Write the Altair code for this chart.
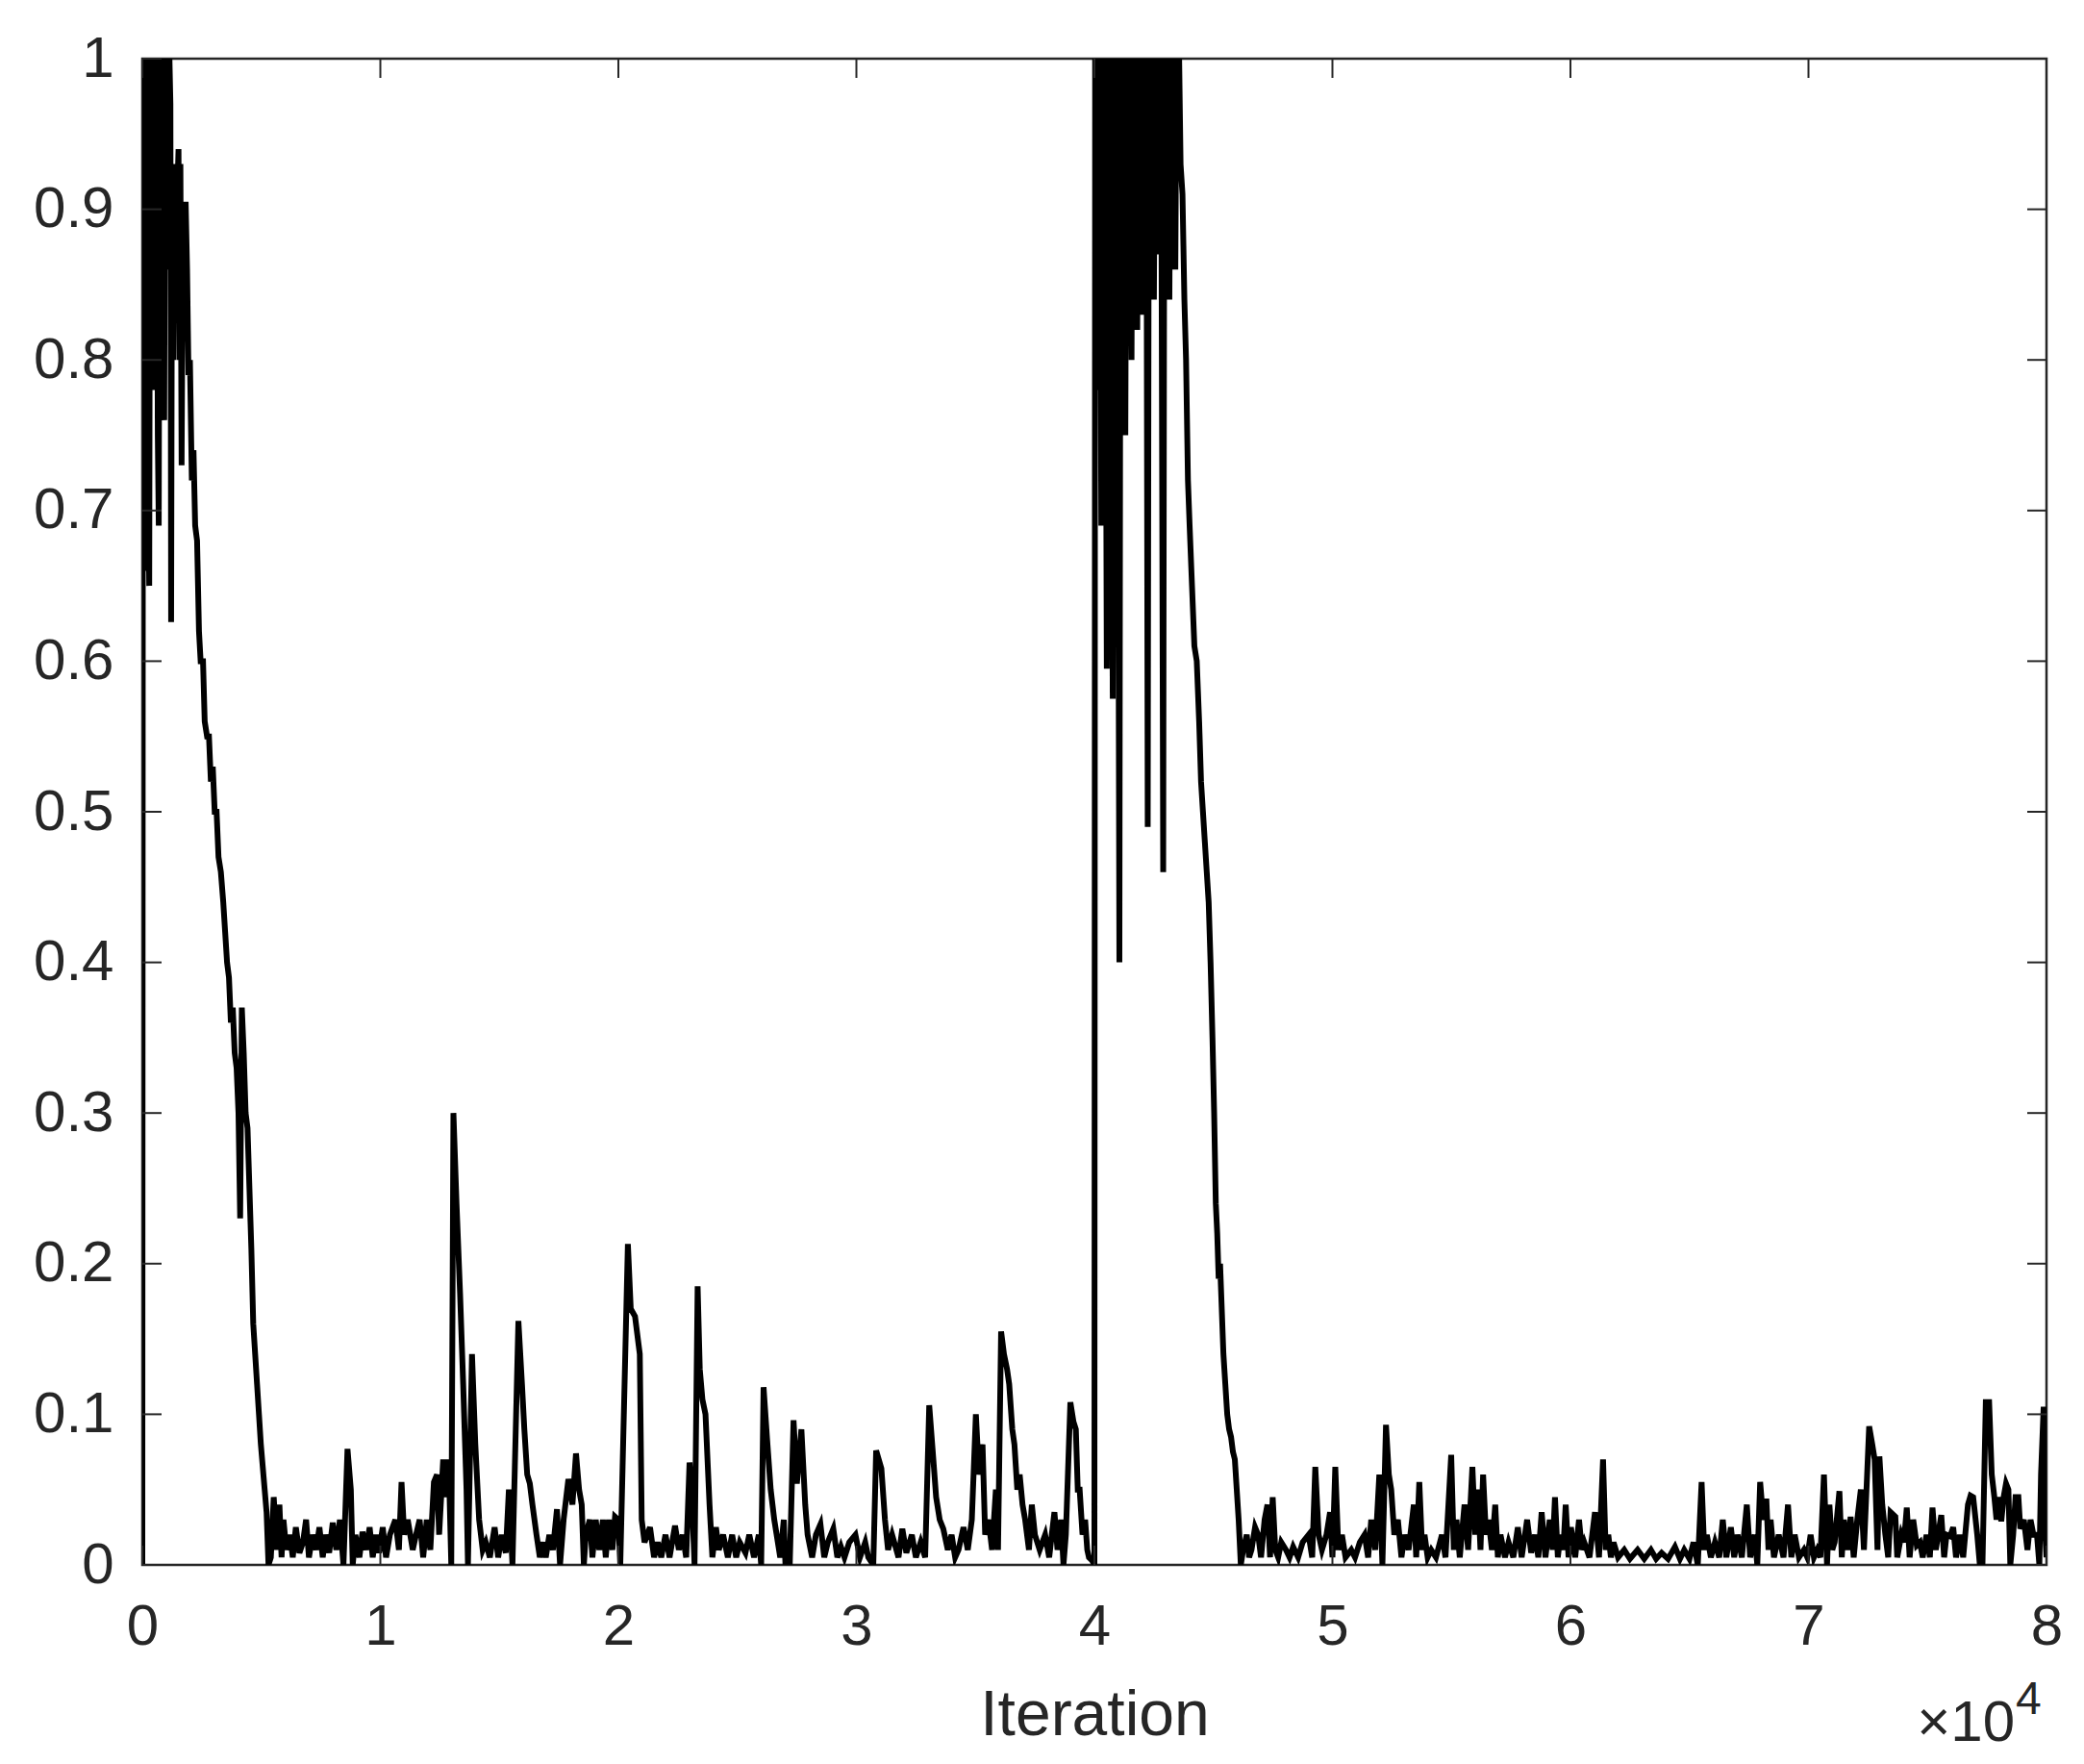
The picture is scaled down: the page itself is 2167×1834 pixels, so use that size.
import altair as alt
import pandas as pd

# ---- data (iteration, value) ----
burst1 = [
    (0, 0.0), (30, 1.0), (70, 0.66), (110, 1.0), (160, 0.8), (200, 1.0), (250, 0.72), (290, 0.65),
    (330, 1.0), (380, 0.85), (420, 1.0), (470, 0.78), (510, 1.0), (560, 0.88), (600, 1.0), (650, 0.75),
    (690, 0.69), (730, 1.0), (780, 0.85), (820, 1.0), (870, 0.8), (920, 0.76), (960, 1.0), (1010, 0.9),
    (1050, 1.0), (1100, 0.86), (1140, 1.0), (1180, 0.97), (1210, 0.626), (1250, 0.93), (1300, 0.8),
    (1350, 0.93), (1400, 0.83), (1450, 0.9), (1520, 0.94), (1560, 0.8), (1600, 0.93), (1650, 0.73),
    (1700, 0.88), (1760, 0.83), (1820, 0.905), (1880, 0.86), (1940, 0.79), (2000, 0.80), (2080, 0.72),
    (2150, 0.74), (2220, 0.69), (2300, 0.68), (2380, 0.62), (2450, 0.60), (2550, 0.60), (2620, 0.56),
    (2720, 0.55), (2800, 0.55), (2880, 0.52), (2960, 0.53), (3040, 0.50), (3120, 0.50), (3200, 0.47),
    (3300, 0.46), (3400, 0.44), (3480, 0.42), (3560, 0.40), (3640, 0.39), (3720, 0.36), (3800, 0.37),
    (3880, 0.34), (3960, 0.33), (4040, 0.30), (4110, 0.23), (4180, 0.37), (4260, 0.34), (4340, 0.30),
    (4420, 0.29), (4500, 0.25), (4580, 0.21), (4660, 0.16), (4740, 0.14), (4820, 0.12), (4900, 0.10),
    (4980, 0.08), (5060, 0.065), (5140, 0.05), (5220, 0.035), (5300, 0.0),
]

quiet1 = [
    (5400, 0.005), (5520, 0.045), (5650, 0.01), (5760, 0.04), (5850, 0.005), (5930, 0.03), (6050, 0.01),
    (6200, 0.02), (6320, 0.005), (6450, 0.025), (6600, 0.008), (6750, 0.015), (6880, 0.03), (7000, 0.005),
    (7150, 0.02), (7300, 0.01), (7440, 0.025), (7580, 0.005), (7700, 0.02), (7850, 0.008), (8000, 0.028),
    (8150, 0.01), (8300, 0.03), (8450, 0.0), (8620, 0.077), (8760, 0.05), (8840, 0.0), (8950, 0.02),
    (9120, 0.005), (9250, 0.022), (9400, 0.01), (9550, 0.025), (9680, 0.005), (9820, 0.02), (9950, 0.008),
    (10100, 0.025), (10240, 0.005), (10400, 0.02), (10630, 0.03), (10780, 0.01), (10890, 0.055),
    (11000, 0.02), (11150, 0.03), (11360, 0.01), (11500, 0.02), (11650, 0.03), (11800, 0.005),
    (11950, 0.03), (12100, 0.01), (12250, 0.055), (12380, 0.06), (12470, 0.02), (12640, 0.07),
    (12770, 0.045), (12870, 0.07), (12980, 0.0), (13070, 0.30), (13200, 0.24), (13350, 0.18),
    (13480, 0.12), (13620, 0.05), (13680, 0.0), (13850, 0.14), (13990, 0.08), (14150, 0.03),
    (14300, 0.01), (14430, 0.015), (14600, 0.005), (14800, 0.025), (14950, 0.005), (15100, 0.02),
    (15270, 0.008), (15400, 0.05), (15550, 0.0), (15800, 0.162), (15950, 0.12), (16050, 0.09),
    (16170, 0.06), (16280, 0.054), (16390, 0.04), (16560, 0.02), (16700, 0.005), (16850, 0.015),
    (16950, 0.005), (17100, 0.02), (17250, 0.01), (17420, 0.037), (17550, 0.0), (17700, 0.03),
    (17900, 0.057), (18070, 0.04), (18220, 0.074), (18350, 0.05), (18460, 0.04), (18550, 0.0),
    (18630, 0.02), (18800, 0.03), (18910, 0.005), (19050, 0.03), (19200, 0.01), (19350, 0.03),
    (19470, 0.005), (19600, 0.03), (19750, 0.01), (19860, 0.032), (20000, 0.03), (20080, 0.0),
    (20400, 0.213), (20520, 0.17), (20700, 0.165), (20900, 0.14), (20980, 0.03), (21100, 0.015),
    (21330, 0.025), (21500, 0.005), (21650, 0.015), (21800, 0.005), (21980, 0.02), (22150, 0.005),
    (22380, 0.026), (22540, 0.01), (22700, 0.02), (22850, 0.005), (22990, 0.068), (23100, 0.04),
    (23200, 0.0), (23330, 0.185), (23420, 0.13), (23530, 0.11), (23660, 0.10), (23830, 0.04),
    (23950, 0.005), (24100, 0.025), (24220, 0.01), (24400, 0.02), (24600, 0.005), (24780, 0.02),
    (24950, 0.005), (25100, 0.015), (25340, 0.008), (25500, 0.02), (25700, 0.005), (25900, 0.02),
    (26000, 0.0), (26100, 0.118), (26250, 0.083), (26400, 0.05), (26550, 0.03), (26800, 0.005),
    (26950, 0.03), (27020, 0.0), (27200, 0.0), (27360, 0.096), (27500, 0.054), (27690, 0.09),
    (27850, 0.04), (27950, 0.02), (28140, 0.005), (28300, 0.02), (28490, 0.027), (28650, 0.005),
    (28800, 0.015), (29030, 0.024), (29200, 0.005), (29350, 0.012), (29500, 0.005), (29700, 0.015),
    (29960, 0.02), (30150, 0.005), (30370, 0.015), (30500, 0.005), (30710, 0.0), (30830, 0.076),
    (31050, 0.064), (31200, 0.03), (31330, 0.01), (31500, 0.02), (31770, 0.005), (31930, 0.024),
    (32100, 0.008), (32330, 0.02), (32500, 0.005), (32700, 0.015), (32890, 0.005), (33060, 0.106),
    (33200, 0.077), (33350, 0.045), (33500, 0.03), (33650, 0.024), (33840, 0.01), (34000, 0.02),
    (34150, 0.005), (34290, 0.01), (34500, 0.025), (34680, 0.01), (34850, 0.03), (35020, 0.10),
    (35150, 0.06), (35300, 0.08), (35410, 0.02), (35550, 0.03), (35700, 0.01), (35860, 0.05),
    (35950, 0.01), (36080, 0.155), (36200, 0.14), (36330, 0.13), (36420, 0.12), (36550, 0.09),
    (36640, 0.08), (36760, 0.05), (36860, 0.06), (36980, 0.04), (37090, 0.03), (37250, 0.01),
    (37370, 0.04), (37500, 0.02), (37700, 0.01), (37930, 0.02), (38100, 0.005), (38320, 0.035),
    (38450, 0.01), (38600, 0.03), (38700, 0.0), (38800, 0.02), (38990, 0.108), (39120, 0.095),
    (39220, 0.09), (39300, 0.05), (39380, 0.05), (39500, 0.02), (39610, 0.03), (39700, 0.01),
    (39770, 0.005), (39900, 0.003),
]

burst2 = [
    (40000, 0.0), (40030, 1.0), (40080, 0.78), (40130, 1.0), (40180, 0.85), (40230, 1.0), (40290, 0.69),
    (40340, 1.0), (40390, 0.82), (40440, 1.0), (40520, 0.595), (40570, 1.0), (40620, 0.8), (40670, 1.0),
    (40770, 0.575), (40820, 1.0), (40870, 0.78), (40920, 1.0), (40980, 0.85), (41050, 0.40), (41100, 1.0),
    (41150, 0.8), (41200, 1.0), (41300, 0.75), (41350, 1.0), (41400, 0.83), (41450, 1.0), (41560, 0.80),
    (41610, 1.0), (41660, 0.86), (41710, 1.0), (41800, 0.82), (41850, 1.0), (41900, 0.84), (41950, 1.0),
    (42000, 0.83), (42060, 1.0), (42120, 0.86), (42180, 1.0), (42240, 0.49), (42290, 1.0), (42350, 0.86),
    (42400, 1.0), (42500, 0.84), (42550, 1.0), (42620, 0.88), (42680, 1.0), (42740, 0.87), (42800, 1.0),
    (42890, 0.46), (42940, 1.0), (43000, 0.85), (43060, 1.0), (43150, 0.84), (43200, 1.0), (43280, 0.89),
    (43340, 1.0), (43400, 0.86), (43450, 1.0), (43500, 0.96), (43560, 1.0), (43620, 0.93), (43700, 0.91),
    (43780, 0.84), (43850, 0.80), (43930, 0.72), (44000, 0.69), (44100, 0.65), (44200, 0.61),
    (44300, 0.60), (44400, 0.56), (44480, 0.52), (44560, 0.50), (44640, 0.48), (44720, 0.46),
    (44800, 0.44), (44880, 0.40), (44960, 0.35), (45030, 0.30), (45100, 0.24), (45160, 0.22),
    (45220, 0.19), (45280, 0.20), (45350, 0.17), (45420, 0.14), (45500, 0.12), (45580, 0.10),
    (45660, 0.09), (45740, 0.085), (45820, 0.075), (45900, 0.07), (45980, 0.05), (46060, 0.03),
    (46150, 0.0),
]

quiet2 = [
    (46250, 0.01), (46400, 0.02), (46500, 0.005), (46600, 0.01), (46750, 0.025), (46880, 0.02),
    (47000, 0.005), (47150, 0.03), (47270, 0.04), (47380, 0.005), (47490, 0.045), (47600, 0.01),
    (47720, 0.005), (47850, 0.015), (48050, 0.01), (48200, 0.005), (48350, 0.012), (48560, 0.005),
    (48750, 0.015), (49000, 0.02), (49150, 0.005), (49280, 0.065), (49420, 0.02), (49560, 0.01),
    (49750, 0.02), (49900, 0.035), (50000, 0.005), (50120, 0.065), (50250, 0.01), (50400, 0.02),
    (50550, 0.005), (50790, 0.01), (50950, 0.005), (51150, 0.015), (51350, 0.02), (51500, 0.005),
    (51630, 0.03), (51800, 0.01), (51970, 0.06), (52100, 0.0), (52250, 0.093), (52370, 0.06),
    (52470, 0.05), (52600, 0.02), (52750, 0.03), (52900, 0.005), (53030, 0.02), (53200, 0.01),
    (53420, 0.04), (53520, 0.005), (53650, 0.055), (53770, 0.01), (53870, 0.02), (54000, 0.005),
    (54150, 0.01), (54350, 0.005), (54600, 0.02), (54750, 0.005), (54990, 0.073), (55100, 0.01),
    (55210, 0.03), (55350, 0.005), (55550, 0.04), (55700, 0.01), (55880, 0.065), (56000, 0.02),
    (56110, 0.05), (56220, 0.01), (56330, 0.06), (56450, 0.02), (56560, 0.03), (56700, 0.01),
    (56840, 0.04), (56950, 0.005), (57060, 0.02), (57250, 0.005), (57400, 0.015), (57600, 0.005),
    (57790, 0.025), (57950, 0.005), (58180, 0.03), (58350, 0.008), (58510, 0.02), (58650, 0.005),
    (58790, 0.035), (58950, 0.005), (59130, 0.03), (59250, 0.01), (59350, 0.045), (59470, 0.005),
    (59580, 0.02), (59700, 0.01), (59800, 0.04), (59920, 0.005), (60020, 0.025), (60200, 0.005),
    (60360, 0.03), (60480, 0.01), (60580, 0.015), (60800, 0.005), (61030, 0.035), (61200, 0.005),
    (61370, 0.07), (61480, 0.01), (61590, 0.02), (61700, 0.005), (61810, 0.015), (62000, 0.005),
    (62260, 0.01), (62500, 0.004), (62820, 0.01), (63100, 0.004), (63380, 0.01), (63600, 0.004),
    (63830, 0.008), (64100, 0.004), (64390, 0.012), (64600, 0.004), (64780, 0.01), (65000, 0.004),
    (65170, 0.015), (65350, 0.0), (65510, 0.055), (65620, 0.01), (65730, 0.02), (65900, 0.005),
    (66070, 0.015), (66250, 0.005), (66400, 0.03), (66550, 0.005), (66740, 0.025), (66880, 0.005),
    (67020, 0.02), (67200, 0.005), (67410, 0.04), (67550, 0.005), (67740, 0.02), (67850, 0.0),
    (67970, 0.055), (68100, 0.03), (68230, 0.044), (68320, 0.01), (68410, 0.03), (68550, 0.005),
    (68750, 0.02), (68950, 0.005), (69140, 0.04), (69280, 0.005), (69420, 0.02), (69600, 0.005),
    (69810, 0.01), (69950, 0.005), (70090, 0.02), (70230, 0.005), (70370, 0.01), (70500, 0.005),
    (70650, 0.06), (70780, 0.0), (70880, 0.04), (71000, 0.01), (71100, 0.015), (71300, 0.049),
    (71400, 0.005), (71490, 0.03), (71650, 0.01), (71770, 0.032), (71900, 0.005), (72050, 0.03),
    (72200, 0.05), (72330, 0.01), (72550, 0.092), (72680, 0.08), (72780, 0.07), (72900, 0.01),
    (72980, 0.072), (73100, 0.04), (73230, 0.02), (73350, 0.005), (73450, 0.035), (73650, 0.032),
    (73730, 0.005), (73900, 0.02), (74010, 0.015), (74130, 0.038), (74250, 0.005), (74400, 0.03),
    (74550, 0.013), (74680, 0.015), (74800, 0.005), (74960, 0.02), (75100, 0.005), (75210, 0.038),
    (75350, 0.01), (75580, 0.033), (75700, 0.005), (75800, 0.02), (75950, 0.019), (76080, 0.025),
    (76200, 0.005), (76360, 0.02), (76500, 0.005), (76700, 0.04), (76810, 0.046), (76920, 0.045),
    (77090, 0.02), (77200, 0.0), (77310, 0.0), (77450, 0.108), (77590, 0.108), (77700, 0.06),
    (77810, 0.045), (77900, 0.03), (77980, 0.045), (78100, 0.029), (78200, 0.045), (78300, 0.054),
    (78400, 0.05), (78480, 0.0), (78600, 0.02), (78700, 0.045), (78820, 0.045), (78900, 0.024),
    (79050, 0.03), (79200, 0.01), (79330, 0.03), (79450, 0.02), (79600, 0.02), (79700, 0.0),
    (79770, 0.06), (79880, 0.105), (79950, 0.02), (80000, 0.005),
]

x_ticks = [0, 10000, 20000, 30000, 40000, 50000, 60000, 70000, 80000]
y_ticks = [0.0, 0.1, 0.2, 0.3, 0.4, 0.5, 0.6, 0.7, 0.8, 0.9, 1.0]
x_title = "Iteration"
exponent_base = "×10"
exponent_power = "4"

W, H = 1980, 1566
AX = "#262626"
FONT = "Liberation Sans"
TICK = 20

rows = burst1 + quiet1 + burst2 + quiet2
df = pd.DataFrame(rows, columns=["iteration", "value"])
df["order"] = range(len(df))

xscale = alt.Scale(domain=[0, 80000], nice=False, zero=False)
yscale = alt.Scale(domain=[0, 1], nice=False)

line = alt.Chart(df).mark_line(color="black", strokeWidth=6, clip=True).encode(
    x=alt.X("iteration:Q", scale=xscale,
            axis=alt.Axis(values=x_ticks, labelExpr="datum.value / 10000", grid=False, ticks=False,
                          domain=False, labelFontSize=60, labelFont=FONT, labelColor=AX,
                          labelPadding=35, title=x_title, titleFont=FONT, titleFontSize=66,
                          titleFontWeight="normal", titleColor=AX, titleY=176,
                          titleBaseline="alphabetic", labelFlush=False)),
    y=alt.Y("value:Q", scale=yscale,
            axis=alt.Axis(values=y_ticks, labelExpr="format(datum.value, '.1~f')", grid=False,
                          ticks=False, domain=False, labelFontSize=60, labelFont=FONT,
                          labelColor=AX, labelPadding=30, title=None, labelFlush=False)),
    order="order:Q",
)

xt = pd.DataFrame({"t": x_ticks})
yt = pd.DataFrame({"t": y_ticks})
tick_style = dict(color=AX, strokeWidth=2)

xt_bottom = alt.Chart(xt).mark_rule(**tick_style).encode(
    x=alt.X("t:Q", scale=xscale), y=alt.value(H), y2=alt.value(H - TICK))
xt_top = alt.Chart(xt).mark_rule(**tick_style).encode(
    x=alt.X("t:Q", scale=xscale), y=alt.value(0), y2=alt.value(TICK))
yt_left = alt.Chart(yt).mark_rule(**tick_style).encode(
    y=alt.Y("t:Q", scale=yscale), x=alt.value(0), x2=alt.value(TICK))
yt_right = alt.Chart(yt).mark_rule(**tick_style).encode(
    y=alt.Y("t:Q", scale=yscale), x=alt.value(W - TICK), x2=alt.value(W))

exp_df = pd.DataFrame({"base": [exponent_base], "power": [exponent_power]})
exp_base = alt.Chart(exp_df).mark_text(font=FONT, fontSize=60, color=AX, align="right",
                                       baseline="alphabetic").encode(
    text="base:N", x=alt.value(W - 33), y=alt.value(H + 183))
exp_pow = alt.Chart(exp_df).mark_text(font=FONT, fontSize=48, color=AX, align="left",
                                      baseline="alphabetic").encode(
    text="power:N", x=alt.value(W - 32), y=alt.value(H + 155))

chart = alt.layer(line, xt_bottom, xt_top, yt_left, yt_right, exp_base, exp_pow).properties(
    width=W, height=H,
    padding={"left": 140, "top": 53, "right": 25, "bottom": 195},
    autosize=alt.AutoSizeParams(type="none"),
    background="white",
).configure_view(stroke=AX, strokeWidth=2.5)

chart.save("out.html", embed_options={"renderer": "svg", "actions": False})
